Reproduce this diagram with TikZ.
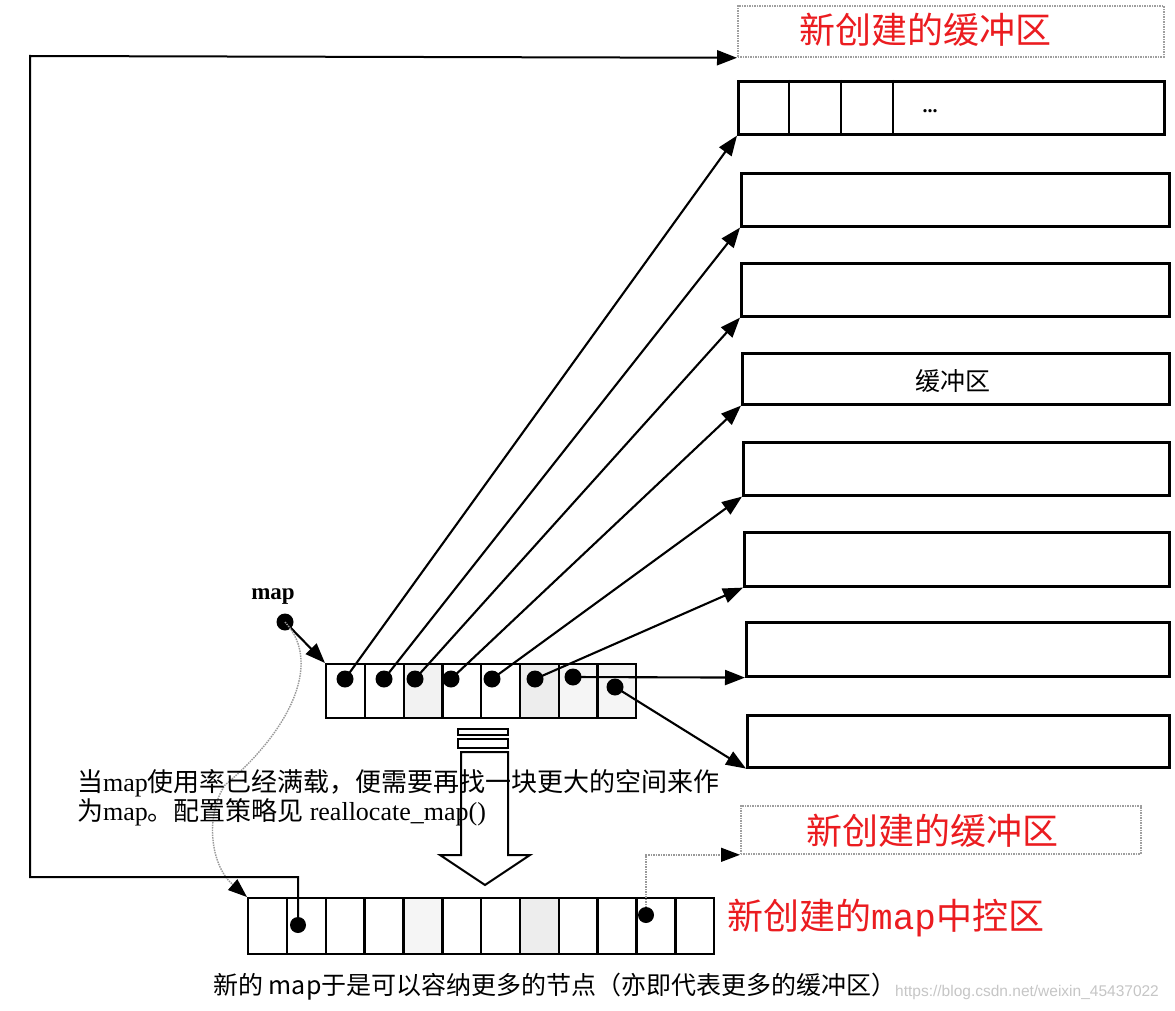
\documentclass[tikz,border=0pt]{standalone}
\usepackage{fontspec}
\setmainfont{Liberation Serif}
\newfontfamily\cjk{Noto Sans CJK SC}
\newfontfamily\wmfont{Liberation Sans}
\newfontfamily\monofont{Liberation Mono}
\usetikzlibrary{arrows.meta}
\definecolor{tred}{RGB}{235,28,32}
\begin{document}
\begin{tikzpicture}[x=1pt,y=1pt,
  bufbox/.style={draw, line width=2.6pt, inner sep=0pt, anchor=north west, minimum height=53pt},
  newbox/.style={draw=gray!75, line width=1.8pt, dash pattern=on 1.5pt off 1pt, inner sep=0pt, anchor=north west},
  mcell/.style={draw, line width=2.4pt, inner sep=0pt, minimum width=38.8pt, anchor=north west},
  dotn/.style={circle, fill=black, inner sep=0pt, minimum size=17pt},
  arr/.style={line width=2.1pt, -{Triangle[length=20pt,width=15pt]}},
  redtxt/.style={text=tred, inner sep=0pt, font=\cjk\fontsize{36}{36}\selectfont},
  desc/.style={anchor=west, inner sep=0pt, font=\cjk\fontsize{26}{30}\selectfont},
]
\useasboundingbox (0,0) rectangle (1175,-1011);
\fill[white] (0,0) rectangle (1175,-1011);

% top new buffer
\node[newbox, minimum width=426pt, minimum height=51pt] (top) at (737,-5) {};
\node[redtxt] (toptxt) at (925,-30) {新创建的缓冲区};

% buffers
\node[bufbox, minimum width=426pt] (b1) at (737,-80) {};
\foreach \d in {52,104,156} \draw[line width=2.6pt] ([xshift=\d pt]b1.north west) -- ([xshift=\d pt]b1.south west);
\node[anchor=base, inner sep=0pt, font=\bfseries\fontsize{20}{20}\selectfont] (ell) at (930,-113) {...};
\node[bufbox, minimum width=428pt] (b2) at (740,-172) {};
\node[bufbox, minimum width=428pt] (b3) at (740,-262) {};
\node[bufbox, minimum width=427pt, minimum height=51pt] (b4) at (741,-352) {};
\node[inner sep=0pt, font=\cjk\fontsize{25}{25}\selectfont] (b4t) at (953,-381) {缓冲区};
\node[bufbox, minimum width=426pt] (b5) at (742,-441) {};
\node[bufbox, minimum width=425pt, minimum height=54pt] (b6) at (743,-531) {};
\node[bufbox, minimum width=423pt, minimum height=54pt] (b7) at (745,-621) {};
\node[bufbox, minimum width=422pt, minimum height=52pt] (b8) at (746,-714) {};

% old map
\fill[black!5] (402.5,-663) rectangle (441.25,-717);
\fill[black!7] (518.75,-663) rectangle (557.5,-717);
\fill[black!4] (557.5,-663) rectangle (635,-717);
\foreach \i in {1,...,8} {
  \node[mcell, minimum height=54pt] (o\i) at ({325+(\i-1)*38.75},-663) {};
}
\node[dotn] (od1) at (345,-679) {};
\node[dotn] (od2) at (384,-679) {};
\node[dotn] (od3) at (415,-679) {};
\node[dotn] (od4) at (451,-679) {};
\node[dotn] (od5) at (492,-679) {};
\node[dotn] (od6) at (535,-679) {};
\node[dotn] (od7) at (573,-677) {};
\node[dotn] (od8) at (615,-687) {};

\draw[arr] (od1.center) -- (b1.south west);
\draw[arr] (od2.center) -- (b2.south west);
\draw[arr] (od3.center) -- (b3.south west);
\draw[arr] (od4.center) -- (b4.south west);
\draw[arr] (od5.center) -- (b5.south west);
\draw[arr] (od6.center) -- (b6.south west);
\draw[arr] (od7.center) -- (b7.south west);
\draw[arr] (od8.center) -- (b8.south west);

% map pointer
\node[inner sep=0pt, font=\bfseries\fontsize{23}{23}\selectfont] (maplbl) at (273,-597) {map};
\node[dotn] (mapdot) at (285,-622) {};
\draw[arr] (mapdot.center) -- (o1.north west);

% new map
\fill[black!4] (402.3,-897) rectangle (441.1,-953);
\fill[black!7] (518.8,-897) rectangle (557.6,-953);
\foreach \i in {1,...,12} {
  \node[mcell, minimum height=56pt] (n\i) at ({247+(\i-1)*38.83},-897) {};
}

% dotted curve from map to new map
\draw[gray!80, line width=1.4pt, dash pattern=on 1.5pt off 1pt, -{Triangle[length=19pt,width=14pt,color=black]}]
  (mapdot.center) .. controls (325,-665) and (285,-735) .. (225,-785)
  .. controls (205,-815) and (210,-865) .. (n1.north west);

% lower new buffer
\node[newbox, minimum width=400pt, minimum height=48pt] (lbox) at (740,-805) {};
\node[redtxt] (lboxt) at (932,-831) {新创建的缓冲区};
\node[redtxt, anchor=west] (nmt) at (727,-918) {新创建的{\monofont map}中控区};

% dots in new map
\coordinate (nd2) at (298,-925);
\coordinate (nd11) at (646,-915);

% left long connector
\draw[line width=2pt, -{Triangle[length=20pt,width=15pt]}]
  (nd2) -- (298,-877) -- (30,-877) -- (30,-56) -- (top.south west);

\draw[gray!80, line width=1.4pt, dash pattern=on 1.5pt off 1pt, -{Triangle[length=19pt,width=14pt,color=black]}]
  (nd11) |- (lbox.south west);

\fill[black] (nd2) circle (8pt);
\fill[black] (nd11) circle (8pt);

% hollow down arrow
\draw[line width=2pt] (458,-729) rectangle (508,-735);
\draw[line width=2pt] (458,-739) rectangle (508,-748);
\draw[line width=2pt] (461,-752) -- (461,-855) -- (440,-855) -- (485,-885) -- (530,-855) -- (508,-855) -- (508,-752) -- cycle;

% description
\node[desc] (d1) at (77,-783) {当{\rmfamily map}使用率已经满载，便需要再找一块更大的空间来作};
\node[desc] (d2) at (77,-812) {为{\rmfamily map}。配置策略见 {\rmfamily reallocate\_map()}};

% caption
\node[anchor=west, inner sep=0pt, font=\cjk\fontsize{25}{30}\selectfont] (cap) at (213,-987) {新的 map于是可以容纳更多的节点（亦即代表更多的缓冲区）};
\node[anchor=west, inner sep=0pt, text=gray!45, font=\wmfont\fontsize{15.5}{18}\selectfont] (wm) at (895,-992) {https://blog.csdn.net/weixin\_45437022};
\end{tikzpicture}
\end{document}
